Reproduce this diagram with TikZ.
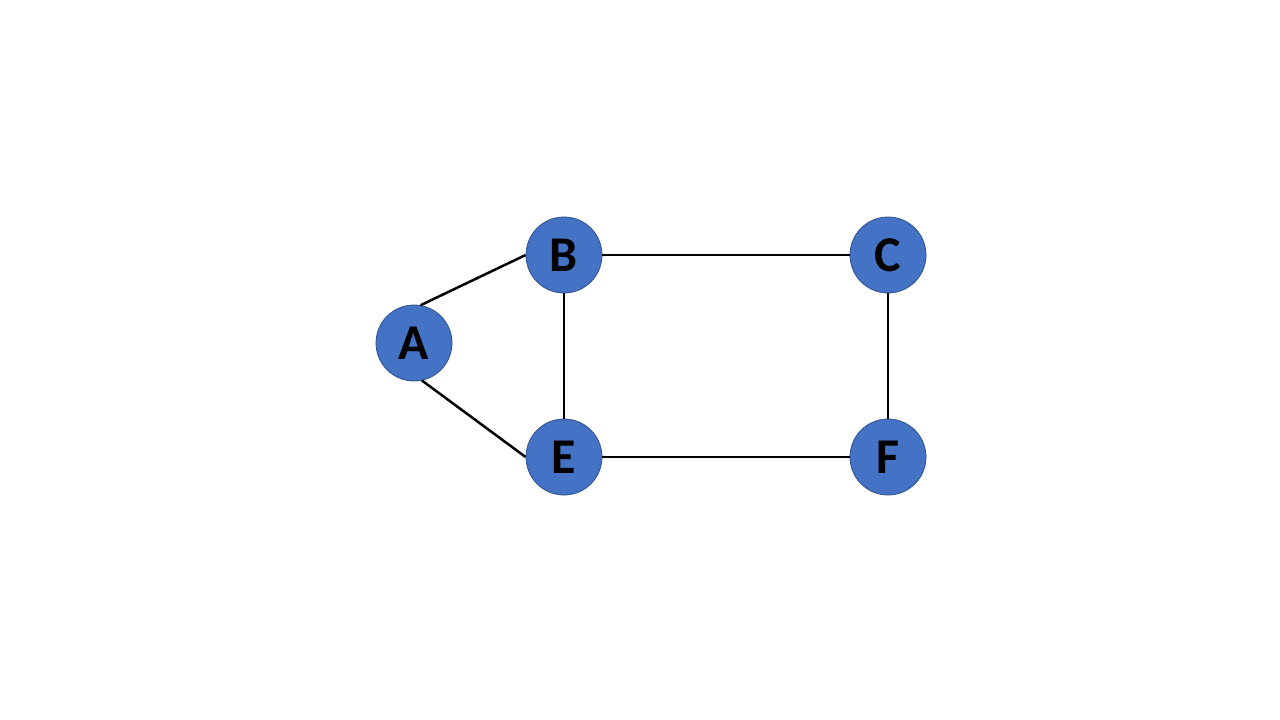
\documentclass[tikz,border=0pt]{standalone}
\usepackage{fontspec}
\setmainfont{Carlito}
\definecolor{nodefill}{HTML}{4472C4}
\definecolor{nodeline}{HTML}{2F528F}
\tikzset{
  vertex/.style={circle, fill=nodefill, draw=nodeline, line width=0.8pt, minimum size=76pt, inner sep=0pt,
    font=\fontsize{50}{50}\selectfont\bfseries, text=black},
  edge/.style={draw=black, line width=2.5pt}
}
\begin{document}
\begin{tikzpicture}[x=1pt,y=-1pt]
\useasboundingbox (0,0) rectangle (1280,720);
\node[vertex] (A) at (414,343) {A};
\node[vertex] (B) at (564,255) {B};
\node[vertex] (C) at (888,255) {C};
\node[vertex] (E) at (564,457) {E};
\node[vertex] (F) at (888,457) {F};
\draw[edge] (A.80) -- (B.west);
\draw[edge] (A.-78) -- (E.west);
\draw[edge] (B.east) -- (C.west);
\draw[edge] (B.south) -- (E.north);
\draw[edge] (C.south) -- (F.north);
\draw[edge] (E.east) -- (F.west);
\end{tikzpicture}
\end{document}
